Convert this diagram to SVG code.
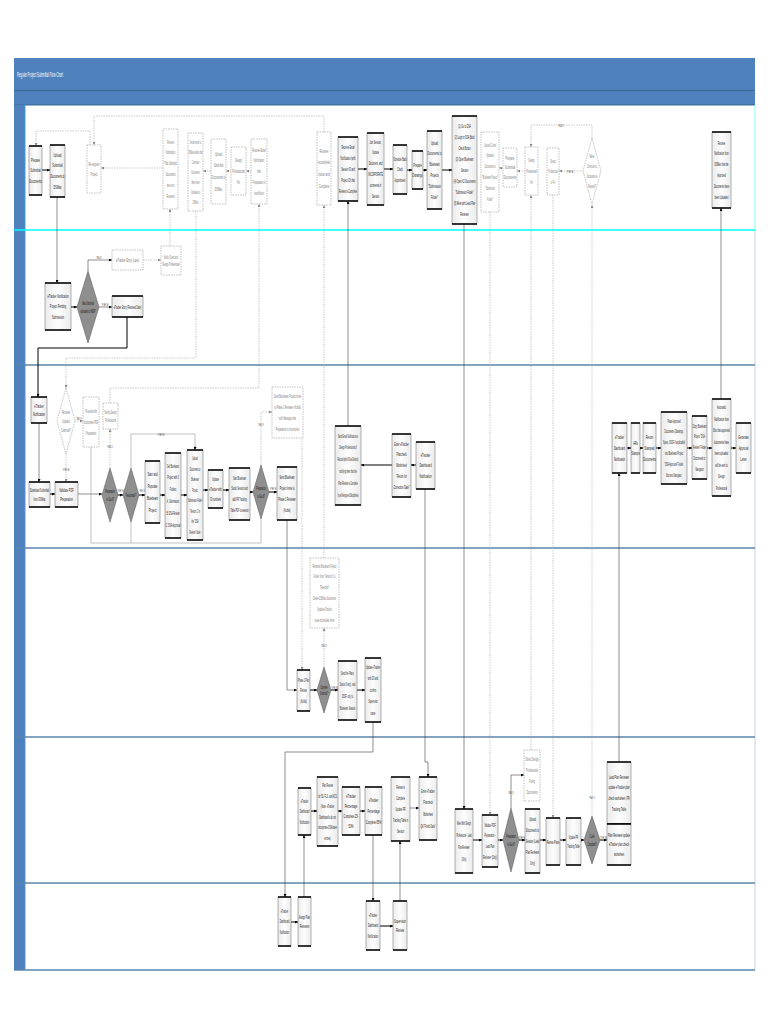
<svg xmlns="http://www.w3.org/2000/svg" width="768" height="1024" viewBox="0 0 768 1024">
<defs>
<linearGradient id="gf" x1="0" y1="0" x2="1" y2="0"><stop offset="0" stop-color="#ebebeb"/><stop offset=".5" stop-color="#fdfdfd"/><stop offset="1" stop-color="#ebebeb"/></linearGradient>
<marker id="ah" viewBox="0 0 6 6" refX="6" refY="3" markerWidth="3" markerHeight="3" markerUnits="userSpaceOnUse" orient="auto"><path d="M0,0 L6,3 L0,6 z" fill="#000"/></marker>
<marker id="ahg" viewBox="0 0 6 6" refX="6" refY="3" markerWidth="3" markerHeight="3" markerUnits="userSpaceOnUse" orient="auto"><path d="M0,0 L6,3 L0,6 z" fill="#888"/></marker>
</defs>
<style>
.b{fill:url(#gf);stroke:#666;stroke-width:.5}
.tb{stroke:#000;stroke-width:1.6;fill:none}
.d{fill:#fff;stroke:#999;stroke-width:.6;stroke-dasharray:1.5 1}
.gd{fill:#8f8f8f;stroke:#555;stroke-width:.5}
.t{font-family:'Liberation Sans',Arial,sans-serif;font-size:5.5px;fill:#111;text-anchor:middle}
.g{fill:#777}
.c{fill:none;stroke:#444;stroke-width:.6;marker-end:url(#ah)}
.ck{fill:none;stroke:#000;stroke-width:1;marker-end:url(#ah)}
.cd{fill:none;stroke:#aaa;stroke-width:.6;stroke-dasharray:1.5 1;marker-end:url(#ahg)}
.cn{fill:none;stroke:#999;stroke-width:.6}
.lb{font-family:'Liberation Sans',Arial,sans-serif;font-size:3.5px;fill:#555;text-anchor:middle}
.ln{stroke:#5a84ad;stroke-width:1.5}
</style>
<rect width="768" height="1024" fill="#fff"/>
<g id="frame">
<rect x="14" y="58" width="741" height="32" fill="#4f81bd"/>
<rect x="14" y="91" width="741" height="14" fill="#4f81bd"/>
<line x1="14" y1="90.5" x2="755" y2="90.5" stroke="#3b6896" stroke-width="1"/>
<line x1="14" y1="105" x2="755" y2="105" stroke="#3b6896" stroke-width="1"/>
<rect x="14" y="105" width="11" height="865" fill="#4f81bd"/>
<line x1="25.3" y1="105" x2="25.3" y2="230" stroke="#00e5ff" stroke-width=".8"/>
<line x1="25.3" y1="230" x2="25.3" y2="970" stroke="#6fb0e8" stroke-width=".8"/>
<line x1="755" y1="105" x2="755" y2="230" stroke="#80ffff" stroke-width="1"/>
<line x1="755" y1="230" x2="755" y2="970" stroke="#c5d5ea" stroke-width="1"/>
<line x1="14" y1="230" x2="755" y2="230" stroke="#00ffff" stroke-width="1.5"/>
<line class="ln" x1="14" y1="365" x2="755" y2="365"/>
<line class="ln" x1="14" y1="548" x2="755" y2="548"/>
<line class="ln" x1="14" y1="737" x2="755" y2="737"/>
<line class="ln" x1="14" y1="883" x2="755" y2="883"/>
<line class="ln" x1="14" y1="970" x2="755" y2="970"/>
<text transform="translate(17,77) scale(.4 1)" font-family="'Liberation Sans',Arial,sans-serif" font-size="7" fill="#fff">Regular Project Submittal Flow Chart</text>
</g>
<g id="connectors">
<path class="ck" d="M42,170H50"/>
<path class="cd" d="M324,132V116H94V145"/>
<path class="cd" d="M90,145V131H36V146"/>
<path class="cd" d="M163,168H101"/>
<path class="cd" d="M211,171H203"/>
<path class="cd" d="M231,171H226"/>
<path class="cd" d="M251,171H246"/>
<path class="cd" d="M170,246V209"/>
<path class="cd" d="M196,211V358H66V388"/>
<path class="cd" d="M110,403V388H259V204"/>
<path class="ck" d="M358,169H367"/>
<path class="ck" d="M384,169H393"/>
<path class="ck" d="M407,170H412"/>
<path class="ck" d="M423,170H427"/>
<path class="ck" d="M442,170H452"/>
<path class="cd" d="M503,168H499"/>
<path class="cd" d="M525,171H517"/>
<path class="cd" d="M583,171H559"/>
<path class="cd" d="M592,138V125H531V147"/>
<path class="c" d="M348,426V201"/>
<path class="c" d="M464,224V809"/>
<path class="cd" d="M490,212V815"/>
<path class="cd" d="M531,750V195"/>
<path class="cd" d="M553,195V818"/>
<path class="cd" d="M592,816V205"/>
<path class="c" d="M721,399V208"/>
<path class="c" d="M57,197V283"/>
<path class="ck" d="M71,307H77"/>
<path class="c" d="M99,307H112"/>
<path class="c" d="M88,271V260H112"/>
<path class="cd" d="M143,260H161"/>
<path class="ck" d="M127,317V348H38V397"/>
<path class="c" d="M39,423V482"/>
<path class="cd" d="M66,454V482"/>
<path class="cd" d="M75,421H83"/>
<path class="ck" d="M50,494H55"/>
<path class="c" d="M78,494H102"/>
<path class="cn" d="M91,447V494"/>
<path class="cd" d="M110,468V429"/>
<path class="ck" d="M118,495H123"/>
<path class="ck" d="M139,495H145"/>
<path class="cn" d="M131,468V434H195V448"/>
<path class="c" d="M195,446V450"/>
<path class="ck" d="M160,495H165"/>
<path class="ck" d="M181,495H187"/>
<path class="ck" d="M203,490H208"/>
<path class="ck" d="M223,490H229"/>
<path class="ck" d="M250,492H253"/>
<path class="ck" d="M269,492H277"/>
<path class="cd" d="M261,465V412H272"/>
<path class="cn" d="M261,519V543H91V494"/>
<path class="cn" d="M131,522V543"/>
<path class="cd" d="M302,438V670"/>
<path class="c" d="M287,520V690H297"/>
<path class="ck" d="M392,465H361"/>
<path class="ck" d="M416,465H411"/>
<path class="c" d="M425,489V762H428V777"/>
<path class="ck" d="M627,448H631"/>
<path class="ck" d="M640,448H643"/>
<path class="ck" d="M656,448H661"/>
<path class="ck" d="M687,448H692"/>
<path class="ck" d="M707,448H712"/>
<path class="ck" d="M731,448H736"/>
<path class="c" d="M619,762V473"/>
<path class="cd" d="M324,558V205"/>
<path class="cd" d="M324,667V628"/>
<path class="ck" d="M310,690H317"/>
<path class="ck" d="M331,690H338"/>
<path class="ck" d="M357,690H365"/>
<path class="c" d="M373,722V752H285V897"/>
<path class="ck" d="M311,811H317"/>
<path class="ck" d="M342,811H338"/>
<path class="ck" d="M360,811H365"/>
<path class="c" d="M410,808H419"/>
<path class="ck" d="M473,840H482"/>
<path class="ck" d="M498,840H503"/>
<path class="ck" d="M519,840H525"/>
<path class="c" d="M511,808V775H524"/>
<path class="ck" d="M540,840H546"/>
<path class="ck" d="M560,840H566"/>
<path class="ck" d="M581,840H584"/>
<path class="ck" d="M600,840H607"/>
<path class="c" d="M304,897V835"/>
<path class="c" d="M373,835V901"/>
<path class="c" d="M400,901V841"/>
<path class="ck" d="M291,922H298"/>
<path class="ck" d="M380,926H393"/>
<text class="lb" x="561" y="126.5">NO</text>
<text class="lb" x="570" y="172.5">YES</text>
<text class="lb" x="105" y="305.5">YES</text>
<text class="lb" x="99" y="258.5">NO</text>
<text class="lb" x="66" y="471">YES</text>
<text class="lb" x="79" y="419.5">NO</text>
<text class="lb" x="110" y="448">NO</text>
<text class="lb" x="120.5" y="492">YES</text>
<text class="lb" x="142" y="492">NO</text>
<text class="lb" x="161" y="435.5">YES</text>
<text class="lb" x="273" y="490">YES</text>
<text class="lb" x="261" y="426">NO</text>
<text class="lb" x="324" y="647">NO</text>
<text class="lb" x="334.5" y="688.5">YES</text>
<text class="lb" x="511" y="794">NO</text>
<text class="lb" x="522" y="838.5">YES</text>
<text class="lb" x="592" y="799">NO</text>
<text class="lb" x="603.5" y="838.5">YES</text>
</g>
<g id="A1"><rect class="b" x="29" y="146" width="13" height="49"/><path class="tb" d="M29,146h13M29,195h13"/><text class="t" transform="translate(35.5,161.5) scale(.45 1)"><tspan x="0">Prepare</tspan><tspan x="0" dy="11">Submittal</tspan><tspan x="0" dy="11">Documents</tspan></text></g>
<g id="A2"><rect class="b" x="50" y="145" width="15" height="52"/><path class="tb" d="M50,145h15M50,197h15"/><text class="t" transform="translate(57.5,156.5) scale(.45 1)"><tspan x="0">Upload</tspan><tspan x="0" dy="11">Submittal</tspan><tspan x="0" dy="11">Document to</tspan><tspan x="0" dy="11">DSMax</tspan></text></g>
<g id="A3"><rect class="d" x="87" y="145" width="14" height="48"/><text class="t g" transform="translate(94,166) scale(.41 1)"><tspan x="0">Re-register</tspan><tspan x="0" dy="10">Project</tspan></text></g>
<g id="A4"><rect class="d" x="163" y="129" width="15" height="80"/><text class="t g" transform="translate(170.5,143.5) scale(.35 1)"><tspan x="0">Receive</tspan><tspan x="0" dy="11">Notification</tspan><tspan x="0" dy="11">That Submittal</tspan><tspan x="0" dy="11">Documents</tspan><tspan x="0" dy="11">were not</tspan><tspan x="0" dy="11">Received</tspan></text></g>
<g id="A5"><rect class="d" x="188" y="133" width="15" height="78"/><text class="t g" transform="translate(195.5,144) scale(.31 1)"><tspan x="0">Sends email to</tspan><tspan x="0" dy="10">DSMax Admin that</tspan><tspan x="0" dy="10">Corrected</tspan><tspan x="0" dy="10">Documents</tspan><tspan x="0" dy="10">Have been</tspan><tspan x="0" dy="10">Uploaded to</tspan><tspan x="0" dy="10">DSMax</tspan></text></g>
<g id="A6"><rect class="d" x="211" y="139" width="15" height="65"/><text class="t g" transform="translate(218.5,155.5) scale(.41 1)"><tspan x="0">Upload</tspan><tspan x="0" dy="12">Submittal</tspan><tspan x="0" dy="12">Documents to</tspan><tspan x="0" dy="12">DSMax</tspan></text></g>
<g id="A7"><rect class="d" x="231" y="147" width="15" height="48"/><text class="t g" transform="translate(238.5,162) scale(.41 1)"><tspan x="0">Design</tspan><tspan x="0" dy="11">Professional</tspan><tspan x="0" dy="11">Fix</tspan></text></g>
<g id="A8"><rect class="d" x="251" y="139" width="16" height="65"/><text class="t g" transform="translate(259,151.5) scale(.38 1)"><tspan x="0">Receive Email</tspan><tspan x="0" dy="11">Notification</tspan><tspan x="0" dy="11">that</tspan><tspan x="0" dy="11">Preparation is</tspan><tspan x="0" dy="11">Insufficient</tspan></text></g>
<g id="A9"><rect class="d" x="317" y="132" width="14" height="73"/><text class="t g" transform="translate(324,152.5) scale(.45 1)"><tspan x="0">Receive</tspan><tspan x="0" dy="12">incomplete</tspan><tspan x="0" dy="12">notice and</tspan><tspan x="0" dy="12">Complete</tspan></text></g>
<g id="A10"><rect class="b" x="338" y="137" width="20" height="64"/><path class="tb" d="M338,137h20M338,201h20"/><text class="t" transform="translate(348,149) scale(.37 1)"><tspan x="0">Receive Email</tspan><tspan x="0" dy="11">Notification (with</tspan><tspan x="0" dy="11">Session ID and</tspan><tspan x="0" dy="11">Project ID) that</tspan><tspan x="0" dy="11">Review is Complete</tspan></text></g>
<g id="A11"><rect class="b" x="367" y="133" width="17" height="72"/><path class="tb" d="M367,133h17M367,205h17"/><text class="t" transform="translate(375.5,143.5) scale(.37 1)"><tspan x="0">Join Session,</tspan><tspan x="0" dy="11">Update</tspan><tspan x="0" dy="11">Document, and</tspan><tspan x="0" dy="11">INCORPORATE</tspan><tspan x="0" dy="11">comments in</tspan><tspan x="0" dy="11">Session</tspan></text></g>
<g id="A12"><rect class="b" x="393" y="145" width="14" height="49"/><path class="tb" d="M393,145h14M393,194h14"/><text class="t" transform="translate(400,160.5) scale(.35 1)"><tspan x="0">Schedule Back</tspan><tspan x="0" dy="11">Check</tspan><tspan x="0" dy="11">Appointment</tspan></text></g>
<g id="A13"><rect class="b" x="412" y="151" width="11" height="38"/><path class="tb" d="M412,151h11M412,189h11"/><text class="t" transform="translate(417.5,167) scale(.43 1)"><tspan x="0">Prepare</tspan><tspan x="0" dy="10">Drawings</tspan></text></g>
<g id="A14"><rect class="b" x="427" y="131" width="15" height="78"/><path class="tb" d="M427,131h15M427,209h15"/><text class="t" transform="translate(434.5,144.5) scale(.41 1)"><tspan x="0">Upload</tspan><tspan x="0" dy="11">Documents to</tspan><tspan x="0" dy="11">Bluebeam</tspan><tspan x="0" dy="11">Projects</tspan><tspan x="0" dy="11">"Submission</tspan><tspan x="0" dy="11">Folder"</tspan></text></g>
<g id="A15"><rect class="b" x="452" y="116" width="25" height="108"/><path class="tb" d="M452,116h25M452,224h25"/><text class="t" transform="translate(464.5,128) scale(.37 1)"><tspan x="0">(1) Go to DSA</tspan><tspan x="0" dy="11">(2) Login in DSA Back</tspan><tspan x="0" dy="11">Check Button</tspan><tspan x="0" dy="11">(3) Open Bluebeam</tspan><tspan x="0" dy="11">Session</tspan><tspan x="0" dy="11">(4) Open ICI Documents</tspan><tspan x="0" dy="11">"Submission Folder"</tspan><tspan x="0" dy="11">(5) Meet with Lead Plan</tspan><tspan x="0" dy="11">Reviewer</tspan></text></g>
<g id="A16"><rect class="d" x="481" y="132" width="18" height="80"/><text class="t g" transform="translate(490,146.5) scale(.33 1)"><tspan x="0">Upload ICI and</tspan><tspan x="0" dy="11">Uploaded</tspan><tspan x="0" dy="11">Documents to</tspan><tspan x="0" dy="11">"Bluebeam Project"</tspan><tspan x="0" dy="11">"Submission</tspan><tspan x="0" dy="11">Folder"</tspan></text></g>
<g id="A17"><rect class="d" x="503" y="148" width="14" height="39"/><text class="t g" transform="translate(510,159.5) scale(.45 1)"><tspan x="0">Prepare</tspan><tspan x="0" dy="10">Submittal</tspan><tspan x="0" dy="10">Documents</tspan></text></g>
<g id="A18"><rect class="d" x="525" y="147" width="13" height="48"/><text class="t g" transform="translate(531.5,162) scale(.35 1)"><tspan x="0">Design</tspan><tspan x="0" dy="11">Professional</tspan><tspan x="0" dy="11">Fix</tspan></text></g>
<g id="A19"><rect class="d" x="547" y="148" width="12" height="47"/><text class="t g" transform="translate(553,162.5) scale(.32 1)"><tspan x="0">Design</tspan><tspan x="0" dy="11">Professional</tspan><tspan x="0" dy="11">of Fix</tspan></text></g>
<g id="A20"><polygon class="d" points="592,138 601,171 592,204 583,171"/><text class="t g" transform="translate(592,158) scale(.3 1)"><tspan x="0">Makes</tspan><tspan x="0" dy="10">Corrections to</tspan><tspan x="0" dy="10">Documents as</tspan><tspan x="0" dy="10">Required?</tspan></text></g>
<g id="A21"><rect class="b" x="712" y="132" width="19" height="76"/><path class="tb" d="M712,132h19M712,208h19"/><text class="t" transform="translate(721.5,144.5) scale(.37 1)"><tspan x="0">Receive</tspan><tspan x="0" dy="11">Notification from</tspan><tspan x="0" dy="11">DSMax that the</tspan><tspan x="0" dy="11">Approved</tspan><tspan x="0" dy="11">Documents have</tspan><tspan x="0" dy="11">been Uploaded</tspan></text></g>
<g id="B1"><rect class="b" x="45" y="283" width="26" height="47"/><path class="tb" d="M45,283h26M45,330h26"/><text class="t" transform="translate(58,297.5) scale(.42 1)"><tspan x="0">eTracker Notification</tspan><tspan x="0" dy="11">Project Pending</tspan><tspan x="0" dy="11">Submission</tspan></text></g>
<g id="B2"><polygon class="gd" points="88,271 99,307 88,343 77,307"/><text class="t" transform="translate(88,305) scale(.33 1)"><tspan x="0">Was Submittal</tspan><tspan x="0" dy="8">uploaded to HEM?</tspan></text></g>
<g id="B3"><rect class="b" x="112" y="296" width="31" height="21"/><path class="tb" d="M112,296h31M112,317h31"/><text class="t" transform="translate(127.5,308.5) scale(.36 1)">eTracker Entry (Received Date)</text></g>
<g id="B4"><rect class="d" x="112" y="250" width="31" height="20"/><text class="t g" transform="translate(127.5,262) scale(.45 1)">eTracker Entry (Late)</text></g>
<g id="B5"><rect class="d" x="161" y="246" width="20" height="29"/><text class="t g" transform="translate(171,258.5) scale(.35 1)"><tspan x="0">Notify Client and</tspan><tspan x="0" dy="8">Design Professional</tspan></text></g>
<g id="C1"><rect class="b" x="31" y="397" width="16" height="26"/><path class="tb" d="M31,397h16M31,423h16"/><text class="t" transform="translate(39,407.5) scale(.44 1)"><tspan x="0">eTracker</tspan><tspan x="0" dy="9">Notification</tspan></text></g>
<g id="C2"><polygon class="d" points="66,388 75,421 66,454 57,421"/><text class="t g" transform="translate(66,414) scale(.36 1)"><tspan x="0">Received</tspan><tspan x="0" dy="9">Updated</tspan><tspan x="0" dy="9">Submittal?</tspan></text></g>
<g id="C3"><rect class="d" x="83" y="397" width="16" height="50"/><text class="t g" transform="translate(91,413) scale(.37 1)"><tspan x="0">Proceed with</tspan><tspan x="0" dy="11">Incomplete PDF</tspan><tspan x="0" dy="11">Preparation</tspan></text></g>
<g id="C4"><rect class="d" x="103" y="403" width="15" height="26"/><text class="t g" transform="translate(110.5,413.5) scale(.37 1)"><tspan x="0">Notify Design</tspan><tspan x="0" dy="9">Professional</tspan></text></g>
<g id="C5"><rect class="b" x="29" y="482" width="21" height="25"/><path class="tb" d="M29,482h21M29,507h21"/><text class="t" transform="translate(39.5,492) scale(.39 1)"><tspan x="0">Download Submittal</tspan><tspan x="0" dy="9">from DSMax</tspan></text></g>
<g id="C6"><rect class="b" x="55" y="482" width="23" height="25"/><path class="tb" d="M55,482h23M55,507h23"/><text class="t" transform="translate(66.5,492) scale(.45 1)"><tspan x="0">Validate PDF</tspan><tspan x="0" dy="9">Preparation</tspan></text></g>
<g id="C7"><polygon class="gd" points="110,468 118,495 110,522 102,495"/><text class="t" transform="translate(110,493) scale(.34 1)"><tspan x="0">Preparation</tspan><tspan x="0" dy="8">is Good?</tspan></text></g>
<g id="C8"><polygon class="gd" points="131,468 139,495 131,522 123,495"/><text class="t" transform="translate(131,497) scale(.32 1)">Resubmittal?</text></g>
<g id="C9"><rect class="b" x="145" y="461" width="15" height="62"/><path class="tb" d="M145,461h15M145,523h15"/><text class="t" transform="translate(152.5,476) scale(.45 1)"><tspan x="0">Start and</tspan><tspan x="0" dy="12">Populate</tspan><tspan x="0" dy="12">Bluebeam</tspan><tspan x="0" dy="12">Project</tspan></text></g>
<g id="C10"><rect class="b" x="165" y="453" width="16" height="85"/><path class="tb" d="M165,453h16M165,538h16"/><text class="t" transform="translate(173,467.5) scale(.35 1)"><tspan x="0">Set Bluebeam</tspan><tspan x="0" dy="12">Project with 3</tspan><tspan x="0" dy="12">Folders</tspan><tspan x="0" dy="12">A. Submission</tspan><tspan x="0" dy="12">B. DSA Review</tspan><tspan x="0" dy="12">C. DSA Approval</tspan></text></g>
<g id="C11"><rect class="b" x="187" y="450" width="16" height="90"/><path class="tb" d="M187,450h16M187,540h16"/><text class="t" transform="translate(195,460.25) scale(.31 1)"><tspan x="0">Upload</tspan><tspan x="0" dy="10.5">Documents to</tspan><tspan x="0" dy="10.5">Bluebeam</tspan><tspan x="0" dy="10.5">Project</tspan><tspan x="0" dy="10.5">Submission Folder</tspan><tspan x="0" dy="10.5">"Version 1" in</tspan><tspan x="0" dy="10.5">the "DSA</tspan><tspan x="0" dy="10.5">Review" folder</tspan></text></g>
<g id="C12"><rect class="b" x="208" y="470" width="15" height="38"/><path class="tb" d="M208,470h15M208,508h15"/><text class="t" transform="translate(215.5,481) scale(.38 1)"><tspan x="0">Update</tspan><tspan x="0" dy="10">eTracker with</tspan><tspan x="0" dy="10">ID numbers</tspan></text></g>
<g id="C13"><rect class="b" x="229" y="468" width="21" height="52"/><path class="tb" d="M229,468h21M229,520h21"/><text class="t" transform="translate(239.5,479.5) scale(.35 1)"><tspan x="0">Start Bluebeam</tspan><tspan x="0" dy="11">Studio Session and</tspan><tspan x="0" dy="11">add PR Tracking</tspan><tspan x="0" dy="11">Table PDF to session</tspan></text></g>
<g id="C14"><polygon class="gd" points="261,465 269,492 261,519 253,492"/><text class="t" transform="translate(261,490) scale(.34 1)"><tspan x="0">Preparation</tspan><tspan x="0" dy="8">is Good?</tspan></text></g>
<g id="C15"><rect class="d" x="272" y="387" width="31" height="51"/><text class="t g" transform="translate(287.5,398) scale(.38 1)"><tspan x="0">Send Bluebeam Project Invite</tspan><tspan x="0" dy="11">to Phase 1 Reviewer (Kubla)</tspan><tspan x="0" dy="11">with Message that</tspan><tspan x="0" dy="11">Preparation is Incomplete</tspan></text></g>
<g id="C16"><rect class="b" x="277" y="467" width="20" height="53"/><path class="tb" d="M277,467h20M277,520h20"/><text class="t" transform="translate(287,479) scale(.39 1)"><tspan x="0">Send Bluebeam</tspan><tspan x="0" dy="11">Project Invite to</tspan><tspan x="0" dy="11">Phase 1 Reviewer</tspan><tspan x="0" dy="11">(Kubla)</tspan></text></g>
<g id="C17"><rect class="b" x="335" y="426" width="26" height="79"/><path class="tb" d="M335,426h26M335,505h26"/><text class="t" transform="translate(348,437.5) scale(.32 1)"><tspan x="0">Send Email Notification to</tspan><tspan x="0" dy="12">Design Professional of</tspan><tspan x="0" dy="12">Record (with ID as District)</tspan><tspan x="0" dy="12">notifying them that the</tspan><tspan x="0" dy="12">Plan Review is Complete</tspan><tspan x="0" dy="12">by all Assigned Disciplines</tspan></text></g>
<g id="C18"><rect class="b" x="392" y="434" width="19" height="63"/><path class="tb" d="M392,434h19M392,497h19"/><text class="t" transform="translate(401.5,445.5) scale(.4 1)"><tspan x="0">Enter eTracker</tspan><tspan x="0" dy="11">Plancheck</tspan><tspan x="0" dy="11">Worksheet</tspan><tspan x="0" dy="11">"Return for</tspan><tspan x="0" dy="11">Correction Date"</tspan></text></g>
<g id="C19"><rect class="b" x="416" y="442" width="19" height="47"/><path class="tb" d="M416,442h19M416,489h19"/><text class="t" transform="translate(425.5,456.5) scale(.45 1)"><tspan x="0">eTracker</tspan><tspan x="0" dy="11">Dashboard</tspan><tspan x="0" dy="11">Notification</tspan></text></g>
<g id="C20"><rect class="b" x="612" y="423" width="15" height="50"/><path class="tb" d="M612,423h15M612,473h15"/><text class="t" transform="translate(619.5,439) scale(.41 1)"><tspan x="0">eTracker</tspan><tspan x="0" dy="11">Dashboard</tspan><tspan x="0" dy="11">Notification</tspan></text></g>
<g id="C21"><rect class="b" x="631" y="423" width="9" height="50"/><path class="tb" d="M631,423h9M631,473h9"/><text class="t" transform="translate(635.5,445) scale(.45 1)"><tspan x="0">ARs</tspan><tspan x="0" dy="10">Stamps</tspan></text></g>
<g id="C22"><rect class="b" x="643" y="423" width="13" height="50"/><path class="tb" d="M643,423h13M643,473h13"/><text class="t" transform="translate(649.5,439) scale(.45 1)"><tspan x="0">Return</tspan><tspan x="0" dy="11">Stamped</tspan><tspan x="0" dy="11">Documents</tspan></text></g>
<g id="C23"><rect class="b" x="661" y="412" width="26" height="72"/><path class="tb" d="M661,412h26M661,484h26"/><text class="t" transform="translate(674,422.5) scale(.34 1)"><tspan x="0">Place Approved</tspan><tspan x="0" dy="11">Documents (Drawings,</tspan><tspan x="0" dy="11">Specs, DSSF if applicable)</tspan><tspan x="0" dy="11">into Bluebeam Project</tspan><tspan x="0" dy="11">"DSA Approval" Folder,</tspan><tspan x="0" dy="11">Box and Navigator</tspan></text></g>
<g id="C24"><rect class="b" x="692" y="416" width="15" height="63"/><path class="tb" d="M692,416h15M692,479h15"/><text class="t" transform="translate(699.5,427.5) scale(.35 1)"><tspan x="0">Copy Bluebeam</tspan><tspan x="0" dy="11">Project "DSA</tspan><tspan x="0" dy="11">Review" Folder</tspan><tspan x="0" dy="11">Documents to</tspan><tspan x="0" dy="11">Navigator</tspan></text></g>
<g id="C25"><rect class="b" x="712" y="399" width="19" height="97"/><path class="tb" d="M712,399h19M712,496h19"/><text class="t" transform="translate(721.5,409.25) scale(.37 1)"><tspan x="0">Automatic</tspan><tspan x="0" dy="11.5">Notification from</tspan><tspan x="0" dy="11.5">Box that approved</tspan><tspan x="0" dy="11.5">documents have</tspan><tspan x="0" dy="11.5">been uploaded</tspan><tspan x="0" dy="11.5">will be sent to</tspan><tspan x="0" dy="11.5">Design</tspan><tspan x="0" dy="11.5">Professional</tspan></text></g>
<g id="C26"><rect class="b" x="736" y="423" width="15" height="50"/><path class="tb" d="M736,423h15M736,473h15"/><text class="t" transform="translate(743.5,439) scale(.45 1)"><tspan x="0">Generate</tspan><tspan x="0" dy="11">Approval</tspan><tspan x="0" dy="11">Letter</tspan></text></g>
<g id="D1"><rect class="d" x="310" y="558" width="29" height="70"/><text class="t g" transform="translate(324.5,567.5) scale(.36 1)"><tspan x="0">Rename Bluebeam Project</tspan><tspan x="0" dy="11">Folder  from "Version1" to</tspan><tspan x="0" dy="11">"Rejected"</tspan><tspan x="0" dy="11">Delete DSMax documents</tspan><tspan x="0" dy="11">Update eTracker</tspan><tspan x="0" dy="11">Issue incomplete letter</tspan></text></g>
<g id="D2"><rect class="b" x="297" y="670" width="13" height="41"/><path class="tb" d="M297,670h13M297,711h13"/><text class="t" transform="translate(303.5,681.5) scale(.35 1)"><tspan x="0">Phase 1 Plan</tspan><tspan x="0" dy="11">Review</tspan><tspan x="0" dy="11">(Kubla)</tspan></text></g>
<g id="D3"><polygon class="gd" points="324,667 331,690 324,713 317,690"/><text class="t" transform="translate(324,688.5) scale(.3 1)"><tspan x="0">Complete</tspan><tspan x="0" dy="7">Submittal?</tspan></text></g>
<g id="D4"><rect class="b" x="338" y="661" width="19" height="59"/><path class="tb" d="M338,661h19M338,720h19"/><text class="t" transform="translate(347.5,674.5) scale(.34 1)"><tspan x="0">Send the Plans,</tspan><tspan x="0" dy="12">Specs (if any), and</tspan><tspan x="0" dy="12">DSSF only to</tspan><tspan x="0" dy="12">Bluebeam Session</tspan></text></g>
<g id="D5"><rect class="b" x="365" y="658" width="16" height="64"/><path class="tb" d="M365,658h16M365,722h16"/><text class="t" transform="translate(373,669) scale(.35 1)"><tspan x="0">Update eTracker</tspan><tspan x="0" dy="11.5">with DS and</tspan><tspan x="0" dy="11.5">confirm</tspan><tspan x="0" dy="11.5">Supervisor</tspan><tspan x="0" dy="11.5">name</tspan></text></g>
<g id="E1"><rect class="b" x="298" y="788" width="13" height="47"/><path class="tb" d="M298,788h13M298,835h13"/><text class="t" transform="translate(304.5,802.5) scale(.35 1)"><tspan x="0">eTracker</tspan><tspan x="0" dy="11">Dashboard</tspan><tspan x="0" dy="11">Notification</tspan></text></g>
<g id="E2"><rect class="b" x="317" y="777" width="21" height="69"/><path class="tb" d="M317,777h21M317,846h21"/><text class="t" transform="translate(327.5,787.25) scale(.35 1)"><tspan x="0">Plan Review</tspan><tspan x="0" dy="10.5">for SS, FLS, and ACS</tspan><tspan x="0" dy="10.5">(Note: eTracker</tspan><tspan x="0" dy="10.5">Dashboard's do not</tspan><tspan x="0" dy="10.5">incorporate DSA/ower</tspan><tspan x="0" dy="10.5">entries)</tspan></text></g>
<g id="E3"><rect class="b" x="342" y="787" width="18" height="48"/><path class="tb" d="M342,787h18M342,835h18"/><text class="t" transform="translate(351,798) scale(.45 1)"><tspan x="0">eTracker</tspan><tspan x="0" dy="10">Percentage</tspan><tspan x="0" dy="10">Complete 25-</tspan><tspan x="0" dy="10">50%</tspan></text></g>
<g id="E4"><rect class="b" x="365" y="787" width="17" height="48"/><path class="tb" d="M365,787h17M365,835h17"/><text class="t" transform="translate(373.5,802) scale(.43 1)"><tspan x="0">eTracker</tspan><tspan x="0" dy="11">Percentage</tspan><tspan x="0" dy="11">Complete 85%</tspan></text></g>
<g id="E5"><rect class="b" x="391" y="777" width="19" height="64"/><path class="tb" d="M391,777h19M391,841h19"/><text class="t" transform="translate(400.5,789) scale(.37 1)"><tspan x="0">Review is</tspan><tspan x="0" dy="11">Complete</tspan><tspan x="0" dy="11">Update PR</tspan><tspan x="0" dy="11">Tracking Table in</tspan><tspan x="0" dy="11">Session</tspan></text></g>
<g id="E6"><rect class="b" x="419" y="777" width="18" height="63"/><path class="tb" d="M419,777h18M419,840h18"/><text class="t" transform="translate(428,792.5) scale(.37 1)"><tspan x="0">Enter eTracker</tspan><tspan x="0" dy="12">Plancheck</tspan><tspan x="0" dy="12">Worksheet</tspan><tspan x="0" dy="12">QA "Finish Date"</tspan></text></g>
<g id="E7"><rect class="b" x="455" y="809" width="18" height="64"/><path class="tb" d="M455,809h18M455,873h18"/><text class="t" transform="translate(464,825) scale(.32 1)"><tspan x="0">Meet With Design</tspan><tspan x="0" dy="12">Professional - Lead</tspan><tspan x="0" dy="12">Plan Reviewer</tspan><tspan x="0" dy="12">(Only)</tspan></text></g>
<g id="E8"><rect class="b" x="482" y="815" width="16" height="52"/><path class="tb" d="M482,815h16M482,867h16"/><text class="t" transform="translate(490,826.5) scale(.35 1)"><tspan x="0">Validate PDF</tspan><tspan x="0" dy="11">Preparation -</tspan><tspan x="0" dy="11">Lead Plan</tspan><tspan x="0" dy="11">Reviewer (Only)</tspan></text></g>
<g id="E9"><polygon class="gd" points="511,808 519,840 511,872 503,840"/><text class="t" transform="translate(511,838) scale(.34 1)"><tspan x="0">Preparation</tspan><tspan x="0" dy="8">is Good?</tspan></text></g>
<g id="E10"><rect class="d" x="524" y="750" width="16" height="51"/><text class="t g" transform="translate(532,761) scale(.4 1)"><tspan x="0">Direct Design</tspan><tspan x="0" dy="11">Professional</tspan><tspan x="0" dy="11">Fixing</tspan><tspan x="0" dy="11">Documents</tspan></text></g>
<g id="E11"><rect class="b" x="525" y="809" width="15" height="64"/><path class="tb" d="M525,809h15M525,873h15"/><text class="t" transform="translate(532.5,821) scale(.38 1)"><tspan x="0">Upload</tspan><tspan x="0" dy="11">Documents to</tspan><tspan x="0" dy="11">Session (Lead</tspan><tspan x="0" dy="11">Plan Reviewer</tspan><tspan x="0" dy="11">Only)</tspan></text></g>
<g id="E12"><rect class="b" x="546" y="818" width="14" height="47"/><path class="tb" d="M546,818h14M546,865h14"/><text class="t" transform="translate(553,843.5) scale(.38 1)">Review Plans</text></g>
<g id="E13"><rect class="b" x="566" y="818" width="15" height="47"/><path class="tb" d="M566,818h15M566,865h15"/><text class="t" transform="translate(573.5,839) scale(.35 1)"><tspan x="0">Update PR</tspan><tspan x="0" dy="9">Tracking Table</tspan></text></g>
<g id="E14"><polygon class="gd" points="592,816 600,840 592,864 584,840"/><text class="t" transform="translate(592,838) scale(.33 1)"><tspan x="0">Code</tspan><tspan x="0" dy="8">Compliant?</tspan></text></g>
<g id="E15"><rect class="b" x="607" y="762" width="24" height="62"/><path class="tb" d="M607,762h24M607,824h24"/><text class="t" transform="translate(619,778.5) scale(.41 1)"><tspan x="0">Lead Plan Reviewer</tspan><tspan x="0" dy="11">update eTracker plan</tspan><tspan x="0" dy="11">check worksheet, PR</tspan><tspan x="0" dy="11">Tracking Table</tspan></text></g>
<g id="E16"><rect class="b" x="607" y="824" width="24" height="41"/><path class="tb" d="M607,824h24M607,865h24"/><text class="t" transform="translate(619,836.5) scale(.41 1)"><tspan x="0">Plan Reviewer update</tspan><tspan x="0" dy="10">eTracker plan check</tspan><tspan x="0" dy="10">worksheet</tspan></text></g>
<g id="F1"><rect class="b" x="278" y="897" width="13" height="49"/><path class="tb" d="M278,897h13M278,946h13"/><text class="t" transform="translate(284.5,912.5) scale(.35 1)"><tspan x="0">eTracker</tspan><tspan x="0" dy="11">Dashboard</tspan><tspan x="0" dy="11">Notification</tspan></text></g>
<g id="F2"><rect class="b" x="298" y="897" width="13" height="49"/><path class="tb" d="M298,897h13M298,946h13"/><text class="t" transform="translate(304.5,918.5) scale(.38 1)"><tspan x="0">Assign Plan</tspan><tspan x="0" dy="10">Reviewers</tspan></text></g>
<g id="F3"><rect class="b" x="366" y="901" width="14" height="49"/><path class="tb" d="M366,901h14M366,950h14"/><text class="t" transform="translate(373,916.5) scale(.38 1)"><tspan x="0">eTracker</tspan><tspan x="0" dy="11">Dashboard</tspan><tspan x="0" dy="11">Notification</tspan></text></g>
<g id="F4"><rect class="b" x="393" y="901" width="14" height="49"/><path class="tb" d="M393,901h14M393,950h14"/><text class="t" transform="translate(400,922.5) scale(.45 1)"><tspan x="0">Supervisor</tspan><tspan x="0" dy="10">Review</tspan></text></g>
</svg>
